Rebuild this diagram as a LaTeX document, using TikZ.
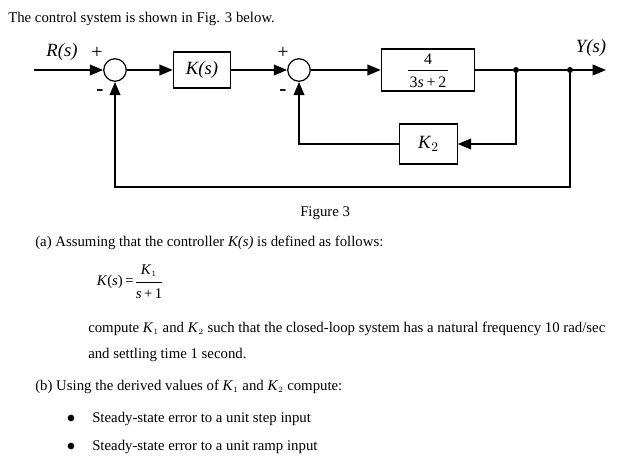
\documentclass[tikz,border=0pt]{standalone}
\usepackage{fontspec}
\setmainfont{Liberation Serif}
\usetikzlibrary{arrows.meta}
\begin{document}
\begin{tikzpicture}[x=0.75pt,y=-0.75pt,
  blk/.style={draw,line width=0.9pt,minimum height=#1,inner sep=0pt},
  sum/.style={draw,circle,line width=0.9pt,minimum size=22.5*0.75pt,inner sep=0pt},
  con/.style={line width=1.3pt},
  arr/.style={con,-{Triangle[length=10pt,width=8pt]}},
  dot/.style={circle,fill,inner sep=0pt,minimum size=4.5pt},
  txt/.style={anchor=base west,inner sep=0pt,font=\fontsize{11.1}{12}\selectfont}]
\useasboundingbox (0,0) rectangle (633,464);
\node[txt] (t0) at (8,22) {The control system is shown in Fig. 3 below.};
% diagram
\coordinate (in) at (34,70);
\node[sum] (s1) at (115,70) {};
\node[blk=27pt,minimum width=43pt,font=\fontsize{14}{14}\selectfont\itshape] (k) at (202,70) {K(s)};
\node[sum] (s2) at (299,70) {};
\node[blk=31.5pt,minimum width=70pt] (g) at (428,70) {};
\node[font=\fontsize{12}{12}\selectfont] (gn) at (428,59) {4};
\node[font=\fontsize{12}{12}\selectfont] (gd) at (428,82) {3\textit{s}\,+\,2};
\draw[line width=0.7pt] (408,70.5) -- (448,70.5);
\node[blk=30pt,minimum width=43pt,font=\fontsize{14}{14}\selectfont] (k2) at (428.5,144) {\textit{K}$_{\scriptstyle 2}$};
\node[dot] (d1) at (516,70) {};
\node[dot] (d2) at (570,70) {};
\coordinate (out) at (606,70);
\node[font=\fontsize{14}{14}\selectfont\itshape] (r) at (62,52) {R(s)};
\node[font=\fontsize{14}{14}\selectfont\itshape] (y) at (591,48) {Y(s)};
\node[font=\fontsize{15}{12}\selectfont] (p1) at (97,53) {+};
\node[font=\bfseries\fontsize{16}{12}\selectfont] (m1) at (100,93) {-};
\node[font=\fontsize{15}{12}\selectfont] (p2) at (283,53) {+};
\node[font=\bfseries\fontsize{16}{12}\selectfont] (m2) at (283,93) {-};
\draw[arr] (in) -- (s1);
\draw[arr] (s1) -- (k);
\draw[arr] (k) -- (s2);
\draw[arr] (s2) -- (g);
\draw[con] (g) -- (d1);
\draw[con] (d1) -- (d2);
\draw[arr] (d2) -- (out);
\draw[arr] (d1) |- (k2);
\draw[arr] (k2) -| (s2);
\draw[arr] (d2) -- (570,187) -| (s1);
% text
\node[txt] (f3) at (300,216) {Figure 3};
\node[txt] (a) at (35,246) {(a) Assuming that the controller \textit{K(s)} is defined as follows:};
\node[anchor=east,inner sep=0pt,font=\fontsize{11.1}{12}\selectfont] (ks) at (134,282) {\textit{K}(\textit{s})\,=};
\node[font=\fontsize{11.1}{12}\selectfont,inner sep=1pt] (kn) at (149,271) {\textit{K}$_{\scriptscriptstyle 1}$};
\draw[line width=0.5pt] (136,282) -- (162,282);
\node[font=\fontsize{11.1}{12}\selectfont,inner sep=1pt] (kd) at (149,294) {\textit{s}\,+\,1};
\node[txt] (c1) at (88,332) {compute \textit{K}$_{\scriptscriptstyle 1}$ and \textit{K}$_{\scriptscriptstyle 2}$ such that the closed-loop system has a natural frequency 10 rad/sec};
\node[txt] (c2) at (88,358) {and settling time 1 second.};
\node[txt] (b) at (35,390) {(b) Using the derived values of \textit{K}$_{\scriptscriptstyle 1}$ and \textit{K}$_{\scriptscriptstyle 2}$ compute:};
\node[dot,minimum size=5pt] (b1) at (71,418) {};
\node[txt] (bt1) at (92,422) {Steady-state error to a unit step input};
\node[dot,minimum size=5pt] (b2) at (71,446) {};
\node[txt] (bt2) at (92,450) {Steady-state error to a unit ramp input};
\end{tikzpicture}
\end{document}
